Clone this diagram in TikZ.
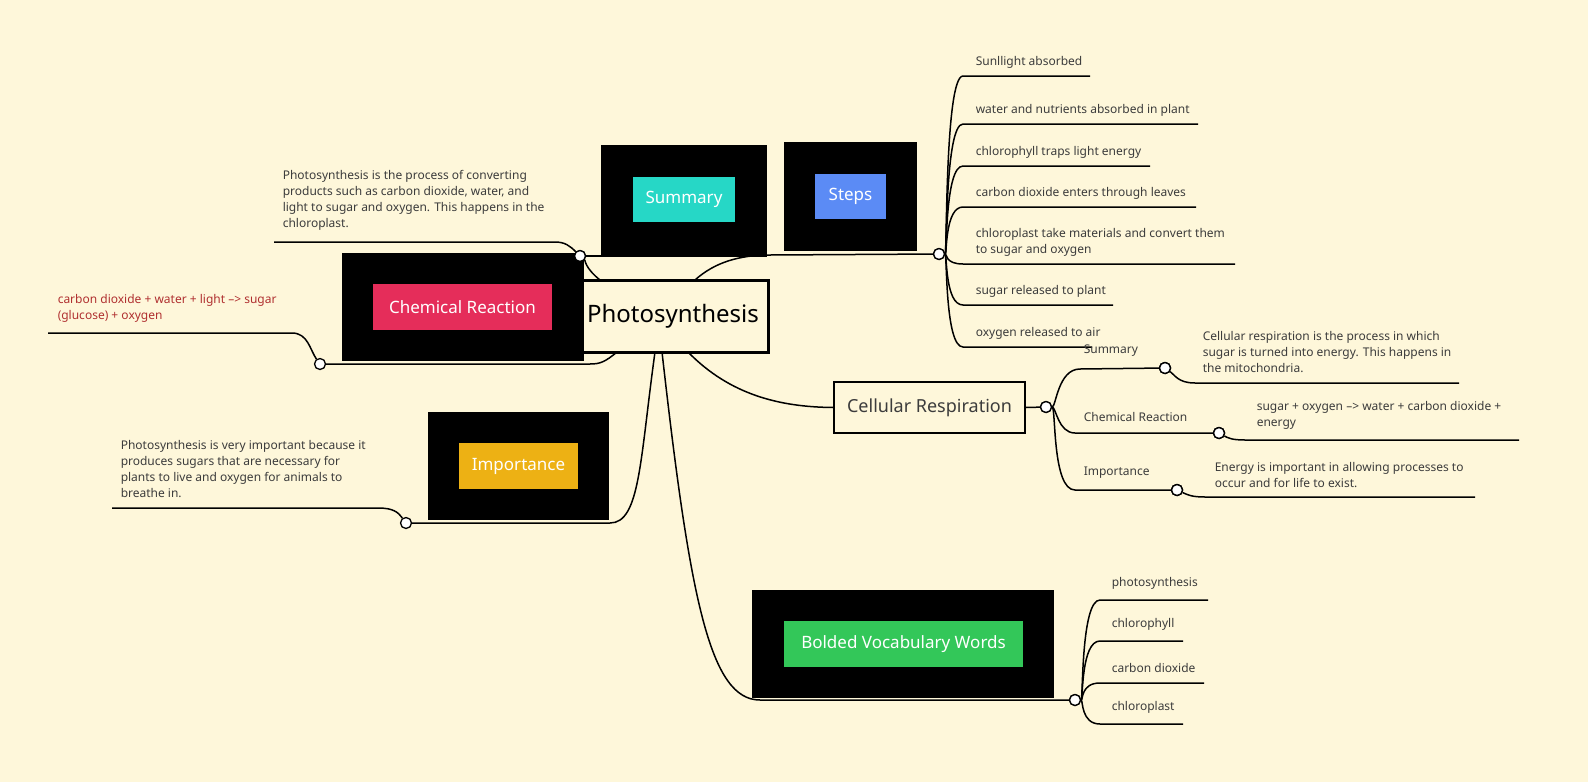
\documentclass[tikz,border=0pt]{standalone}
\usepackage{fontspec}
\setmainfont{Noto Sans}
\begin{document}
\definecolor{bg}{RGB}{254,247,218}
\definecolor{tx}{RGB}{60,60,60}
\definecolor{cteal}{RGB}{38,215,198}
\definecolor{cblue}{RGB}{91,139,245}
\definecolor{cred}{RGB}{229,45,90}
\definecolor{cyel}{RGB}{237,177,20}
\definecolor{cgreen}{RGB}{51,199,89}
\definecolor{redtx}{RGB}{176,48,48}
\begin{tikzpicture}[x=1pt,y=-1pt,line width=1.5pt,
  sm/.style={font=\fontsize{12}{16}\selectfont,text=tx,align=left,inner sep=0pt,anchor=south west},
  blk/.style={fill=black,draw=none},
  inner/.style={text=white,font=\fontsize{17}{20}\selectfont,inner sep=0pt},
  dot/.style={circle,draw=black,fill=white,line width=1.3pt,minimum size=11pt,inner sep=0pt},
  ln/.style={line width=1.5pt}]
\fill[bg] (0,0) rectangle (1588,782);
\useasboundingbox (0,0) rectangle (1588,782);

% dots
\node[dot] (dsum) at (580,256) {};
\node[dot] (dchem) at (320,364) {};
\node[dot] (dimp) at (406,523) {};
\node[dot] (dvoc) at (1075,700) {};
\node[dot] (dstp) at (939,254) {};
\node[dot] (dcr) at (1046,407) {};
\node[dot] (dcr1) at (1165,368) {};
\node[dot] (dcr2) at (1219,433) {};
\node[dot] (dcr3) at (1177,490) {};

% center
\node[draw=black,line width=3pt,fill=bg,minimum width=190pt,minimum height=72pt,font=\fontsize{24}{28}\selectfont] (ps) at (673,316) {Photosynthesis};
\node[draw=black,line width=1.6pt,fill=bg,minimum width=191pt,minimum height=51pt,font=\fontsize{18}{22}\selectfont,text=tx] (cr) at (929.5,407.5) {Cellular Respiration};

% main connectors
\draw[ln] (600,280) .. controls (585,268) and (585,260) .. (dsum);
\draw[ln] (dsum) .. controls (570,246) and (565,242) .. (555,242) -- (274,242);
\draw[ln] (dsum) -- (767,256);
\draw[ln] (695,280) .. controls (715,262) and (740,255) .. (770,255) -- (dstp);
\draw[ln] (617,352) .. controls (605,362) and (600,364) .. (590,364) -- (dchem);
\draw[ln] (dchem) .. controls (310,350) and (308,333) .. (292,333) -- (48,333);
\draw[ln] (655,352) .. controls (640,460) and (640,523) .. (610,523) -- (dimp);
\draw[ln] (dimp) .. controls (398,512) and (393,508) .. (378,508) -- (112,508);
\draw[ln] (662,352) .. controls (690,600) and (710,700) .. (760,700) -- (dvoc);
\draw[ln] (688,352) .. controls (730,395) and (780,407) .. (cr.west);
\draw[ln] (cr.east) -- (dcr);

% black boxes
\fill[blk] (601,145) rectangle (767,257);
\node[fill=cteal,minimum width=102pt,minimum height=45pt,inner] (sum) at (684,199.5) {Summary};
\fill[blk] (784,142) rectangle (917,251);
\node[fill=cblue,minimum width=71pt,minimum height=45pt,inner] (stp) at (850.5,196.5) {Steps};
\fill[blk] (342,253) rectangle (584,361);
\node[fill=cred,minimum width=179pt,minimum height=46pt,inner] (chem) at (462.5,307) {Chemical Reaction};
\fill[blk] (428,412) rectangle (609,520);
\node[fill=cyel,minimum width=119pt,minimum height=46pt,inner] (imp) at (518.5,466) {Importance};
\fill[blk] (752,590) rectangle (1054,698);
\node[fill=cgreen,minimum width=239pt,minimum height=46pt,inner] (voc) at (903.5,644) {Bolded Vocabulary Words};
\node[dot] at (dsum) {};

% leaf texts of main branches
\node[sm] (tsum) at (282,231) {Photosynthesis is the process of converting\\products such as carbon dioxide, water, and\\light to sugar and oxygen. This happens in the\\chloroplast.};
\node[sm,text=redtx] (tchem) at (57,323) {carbon dioxide + water + light --> sugar\\(glucose) + oxygen};
\node[sm] (timp) at (120,498) {Photosynthesis is very important because it\\produces sugars that are necessary for\\plants to live and oxygen for animals to\\breathe in.};

% steps children
\foreach \y/\e/\t [count=\i] in {76/1090/Sunllight absorbed,124/1198/water and nutrients absorbed in plant,166/1150/chlorophyll traps light energy,207/1196/carbon dioxide enters through leaves,264/1235/{chloroplast take materials and convert them\\to sugar and oxygen},305/1113/sugar released to plant,347/1092/oxygen released to air}{
  \coordinate (se\i) at (\e,\y);
  \draw[ln] (dstp) .. controls (947,254) and (945,\y) .. (963,\y) -- (se\i);
  \node[sm] (st\i) at (975,\y-7) {\t};
}
\node[dot] at (dstp) {};

% vocab children
\foreach \y/\e/\t [count=\i] in {600/1208/photosynthesis,641/1183/chlorophyll,683/1204/carbon dioxide,724/1183/chloroplast}{
  \coordinate (ve\i) at (\e,\y);
  \draw[ln] (dvoc) .. controls (1083,700) and (1081,\y) .. (1100,\y) -- (ve\i);
  \node[sm] (vt\i) at (1111,\y-10) {\t};
}
\node[dot] at (dvoc) {};

% cellular respiration children
\draw[ln] (dcr) .. controls (1056,407) and (1058,369) .. (1080,369) -- (dcr1);
\draw[ln] (dcr) .. controls (1056,407) and (1058,433) .. (1075,433) -- (dcr2);
\draw[ln] (dcr) .. controls (1056,407) and (1052,490) .. (1075,490) -- (dcr3);
\node[dot] at (dcr) {};\node[dot] at (dcr1) {};\node[dot] at (dcr2) {};\node[dot] at (dcr3) {};
\node[sm] (l1) at (1083,357) {Summary};
\node[sm] (l2) at (1083,422) {Chemical Reaction};
\node[sm] (l3) at (1083,479) {Importance};
\coordinate (c1e) at (1459,383);
\coordinate (c2e) at (1519,440);
\coordinate (c3e) at (1475,497);
\draw[ln] (dcr1) .. controls (1175,375) and (1178,383) .. (1195,383) -- (c1e);
\draw[ln] (dcr2) .. controls (1228,438) and (1232,440) .. (1245,440) -- (c2e);
\draw[ln] (dcr3) .. controls (1188,495) and (1192,497) .. (1205,497) -- (c3e);
\node[dot] at (dcr1) {};\node[dot] at (dcr2) {};\node[dot] at (dcr3) {};
\node[sm] (c1t) at (1202,373) {Cellular respiration is the process in which\\sugar is turned into energy. This happens in\\the mitochondria.};
\node[sm] (c2t) at (1256,430) {sugar + oxygen --> water + carbon dioxide +\\energy};
\node[sm] (c3t) at (1214,488) {Energy is important in allowing processes to\\occur and for life to exist.};
\end{tikzpicture}
\end{document}
